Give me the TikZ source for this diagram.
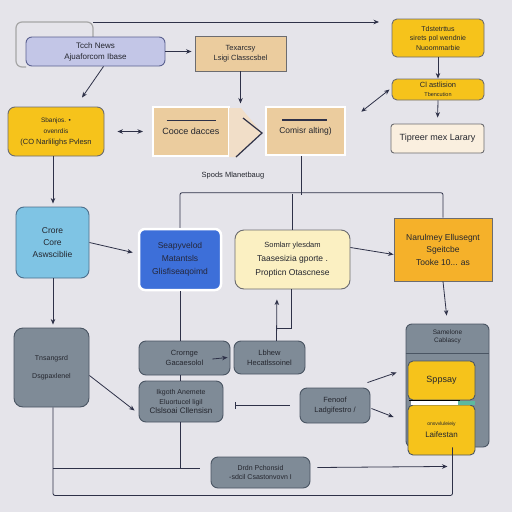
\documentclass[tikz,border=0pt]{standalone}
\usepackage{fontspec}
\setmainfont{Liberation Sans}
\usepackage{tikz}
\usetikzlibrary{arrows.meta,calc}

\definecolor{bg}{HTML}{E5E4EA}
\definecolor{navy}{HTML}{2E3148}
\definecolor{ink}{HTML}{24262E}
\definecolor{edge}{HTML}{6C6C70}
\definecolor{lav}{HTML}{C3C6E7}
\definecolor{lavedge}{HTML}{5B6190}
\definecolor{tan}{HTML}{EBCC9E}
\definecolor{gold}{HTML}{F6C31B}
\definecolor{amber}{HTML}{F5B12A}
\definecolor{paper}{HTML}{FAEFDF}
\definecolor{skyb}{HTML}{7FC4E4}
\definecolor{skyedge}{HTML}{4D6F8C}
\definecolor{royal}{HTML}{3D6FD9}
\definecolor{cream}{HTML}{FBF0C2}
\definecolor{slate}{HTML}{7F8B97}
\definecolor{slateedge}{HTML}{4A5563}
\definecolor{pale}{HTML}{F1DEC8}
\definecolor{mint}{HTML}{5DB8A0}

\begin{document}
\begin{tikzpicture}[x=1pt,y=-1pt,
    >={Stealth[length=5.5pt,width=4.5pt]},
    link/.style={draw=navy, line width=0.8pt},
    box/.style={draw=edge, line width=0.9pt, rounded corners=5pt, align=center, text=ink,
      font=\fontsize{7.5}{10}\selectfont, inner sep=2pt},
    sqbox/.style={box, rounded corners=0pt},
    greybox/.style={box, fill=slate, draw=slateedge, rounded corners=7pt}]

      % Background
      \fill[bg] (0,0) rectangle (512,512);
      \useasboundingbox (0,0) rectangle (512,512);

      % Top row
      \draw[gray!70, line width=1.2pt, rounded corners=6pt] (26,67) -- (16,67) -- (16,22) -- (93,22) -- (93,37);
      \node[box, fill=lav, draw=lavedge, rounded corners=6pt, minimum width=139, minimum height=29,
        font=\fontsize{8}{11}\selectfont] (news) at (95.5,51.5) {Tcch News\\ Ajuaforcom Ibase};
      \node[sqbox, fill=tan, minimum width=91, minimum height=35] (tax) at (240.5,53.5) {Texarcsy\\ Lsigi Classcsbel};
      \node[box, fill=gold, minimum width=92, minimum height=38, font=\fontsize{7}{9.5}\selectfont] (alert) at (438,38)
        {Tdstetrttus\\ sirets pol wendnie\\ Nuoommarbie};
      \node[box, fill=gold, minimum width=92, minimum height=21, font=\fontsize{7.5}{8.5}\selectfont] (clas) at (438,89.5)
        {Cl astlision\\ {\fontsize{5.5}{6}\selectfont Tbencution}};
      \node[box, fill=paper, rounded corners=3pt, minimum width=93, minimum height=29,
        font=\fontsize{9}{11}\selectfont] (lib) at (437.5,138.5) {Tipreer mex Larary};

      % Second row
      \node[box, fill=gold, rounded corners=7pt, minimum width=96, minimum height=49, font=\fontsize{7.5}{11}\selectfont] (sban) at (56,131.5)
        {{\fontsize{6.5}{8}\selectfont Sbanjos. \textbullet}\\ {\fontsize{6.5}{8}\selectfont ovenrdis}\\ (CO Narlilighs Pvlesn};
      \node[sqbox, fill=tan, draw=white, line width=2pt, minimum width=76, minimum height=49,
        font=\fontsize{9}{11}\selectfont] (cooce) at (191,131.5) {Cooce dacces};
      \fill[pale] (229,108) -- (241,108) -- (262,133) -- (237,157) -- (229,157) -- cycle;
      \draw[navy, line width=1.2pt] (243,118) -- (262,133) -- (236,157);
      \node[sqbox, fill=tan, draw=white, line width=2.5pt, minimum width=79, minimum height=48,
        font=\fontsize{8.5}{11}\selectfont] (comisr) at (305.5,131) {Comisr alting)};
      \draw[navy, line width=1.1pt] ([yshift=11pt]cooce.center) +(-24.5,0) -- +(24.5,0);
      \draw[navy, line width=1.1pt] ([yshift=11pt,xshift=-1pt]comisr.center) +(-22.5,0) -- +(22.5,0);
      \node[text=ink, font=\fontsize{7.5}{9}\selectfont] (spods) at (233,176) {Spods Mlanetbaug};

      % Third row
      \node[box, fill=skyb, draw=skyedge, rounded corners=8pt, minimum width=73, minimum height=71,
        font=\fontsize{8.5}{12}\selectfont] (core) at (52.5,242.5) {Crore\\ Core\\ Aswsciblie};
      \node[box, fill=royal, draw=white, text=navy!80!black, line width=2.5pt, rounded corners=6pt, minimum width=82, minimum height=61,
        font=\fontsize{8.5}{13}\selectfont] (seap) at (180,259.5) {Seapyvelod\\ Matantsls\\ Glisfiseaqoimd};
      \node[box, fill=cream, rounded corners=9pt, minimum width=115, minimum height=59,
        font=\fontsize{8.5}{14}\selectfont] (soml) at (292.5,259.5)
        {{\fontsize{7.5}{9}\selectfont Somlarr ylesdam}\\ Taasesizia gporte .\\ Propticn Otascnese};
      \node[sqbox, fill=amber, minimum width=98, minimum height=63, font=\fontsize{8.5}{12.5}\selectfont] (naru) at (443,249.5)
        {Narulmey Ellusegnt\\ Sgeitcbe\\ Tooke 10... as};

      % Fourth row
      \node[greybox, rounded corners=9pt, minimum width=75, minimum height=79, font=\fontsize{7}{18}\selectfont] (tnsa) at (51.5,367.5)
        {Tnsangsrd\\ Dsgpaxlenel};
      \node[greybox, minimum width=91, minimum height=34] (cror) at (184.5,358) {Crornge\\ Gacaesolol};
      \node[greybox, minimum width=71, minimum height=33] (lbhe) at (269.5,357.5) {Lbhew\\ Hecatlssoinel};
      \node[greybox, minimum width=84, minimum height=41, font=\fontsize{7}{9.5}\selectfont] (ikgo) at (181,401.5)
        {Ikgoth Anemete\\ Eluortucel ligil\\ {\fontsize{8}{10}\selectfont Clslsoai Cllensisn}};
      \node[greybox, minimum width=70, minimum height=35] (feno) at (335,405.5) {Fenoof\\ Ladgifestro /};
      \node[greybox, minimum width=99, minimum height=31, font=\fontsize{7}{9.5}\selectfont] (drdn) at (260.5,472.5)
        {Drdn Pchonsid\\ -sdcil Csastonvovn I};

      % Stack on the right
      \node[greybox, rounded corners=6pt, minimum width=83, minimum height=123] (cont) at (447.5,385.5) {};
      \draw[slateedge, line width=0.8pt] (cont.west |- 0,353) -- (cont.east |- 0,353);
      \node[text=ink, align=center, font=\fontsize{6.5}{8}\selectfont] (conttitle) at (447.5,337) {Samelone\\ Cablascy};
      \node[box, fill=gold, draw=slateedge, rounded corners=5pt, minimum width=67, minimum height=39,
        font=\fontsize{9}{10}\selectfont] (spp) at (441.5,380.5) {Sppsay};
      \node[box, fill=gold, draw=slateedge, rounded corners=5pt, minimum width=67, minimum height=50,
        font=\fontsize{8}{10}\selectfont] (laif) at (441.5,430) {{\fontsize{5}{6}\selectfont onsvvluleieiy}\\[2pt] Laifestan};
      \fill[white] (411,400.5) rectangle (475,405);
      \fill[mint] (458,400.5) rectangle (475,405);
      \draw[black, line width=1pt] (409,400.5) -- (460,400.5);

      % Connectors
      \coordinate (alertin) at (379,22);
      \draw[link,->] (93,22) -- (alertin);
      \draw[link,->] (news.east) -- ([xshift=-3pt]tax.west |- news.east);
      \draw[link,->] ([xshift=8pt]news.south) -- ([xshift=26pt,yshift=9pt]sban.north);
      \draw[link,->] (tax.south) -- ++(0,32);
      \draw[link,<->] ([xshift=13pt]sban.east) -- ([xshift=-9pt]cooce.west);
      \draw[link,<->] ([xshift=15pt,yshift=-6pt]comisr.north east) -- ([xshift=-2pt]clas.west);
      \draw[link,->] (alert.south) -- (clas.north);
      \draw[link,->, shorten >=6pt] (clas.south) -- (lib.north);
      \draw[link] ([xshift=-4pt]comisr.south) -- ++(0,39);
      \draw[link, rounded corners=2pt] (seap.north) -- ++(0,-35) -| (naru.north);
      \draw[link] (soml.north) -- ++(0,-36);
      \draw[link,->] ([xshift=-3pt]sban.south) -- ([xshift=0.5pt,yshift=3pt]core.north);
      \draw[link,->] (core.east) -- ([xshift=-5pt,yshift=7pt]seap.west);
      \draw[link,->] ([yshift=12pt]soml.east) -- ([yshift=-5pt]naru.west);
      \draw[link,->, shorten >=8pt] (naru.south) -- (cont.north);
      \draw[link,->] ([xshift=0.5pt]core.south) -- ([xshift=1.5pt,yshift=3pt]tnsa.north);
      \draw[link,->] ([yshift=-8pt]tnsa.east) -- ([xshift=-4pt,yshift=-9pt]ikgo.west);
      \draw[link] (seap.south) -- ([xshift=-4.5pt]cror.north);
      \draw[link] ([xshift=-4.5pt]cror.south) -- ([xshift=-1pt]ikgo.north);
      \draw[link] ([xshift=-1pt]ikgo.south) -- ++(0,46);
      \draw[link] ([xshift=1.5pt]tnsa.south) ++(0,61) -- ++(147,0);
      \draw[link, rounded corners=2pt] ([xshift=1.5pt]tnsa.south) -- ++(0,88) -| ([xshift=5pt]cont.south);
      \draw[link,->] ([xshift=-18pt,yshift=-1pt]cror.east) -- ([xshift=-6pt]lbhe.west);
      \draw[link] ([xshift=-1.5pt]soml.south) -- ++(0,39) -| ([xshift=7pt]lbhe.north);
      \draw[link,->, shorten >=10pt] ([xshift=7pt]lbhe.north) -- ([xshift=-15.5pt]soml.south);
      \draw[link,|-] ([xshift=12pt]ikgo.east |- feno.west) -- ([xshift=-10pt]feno.west);
      \draw[link,->] ([xshift=-3pt,yshift=5pt]feno.north east) -- ([xshift=-11pt,yshift=8pt]spp.west);
      \draw[link,->] ([xshift=1pt,yshift=-3pt]feno.east) -- ([xshift=-14pt,yshift=13pt]laif.west);
      \draw[link,->] ([xshift=7pt,yshift=5pt]drdn.east) -- ([yshift=-19pt]cont.south);
    \end{tikzpicture}
\end{document}
